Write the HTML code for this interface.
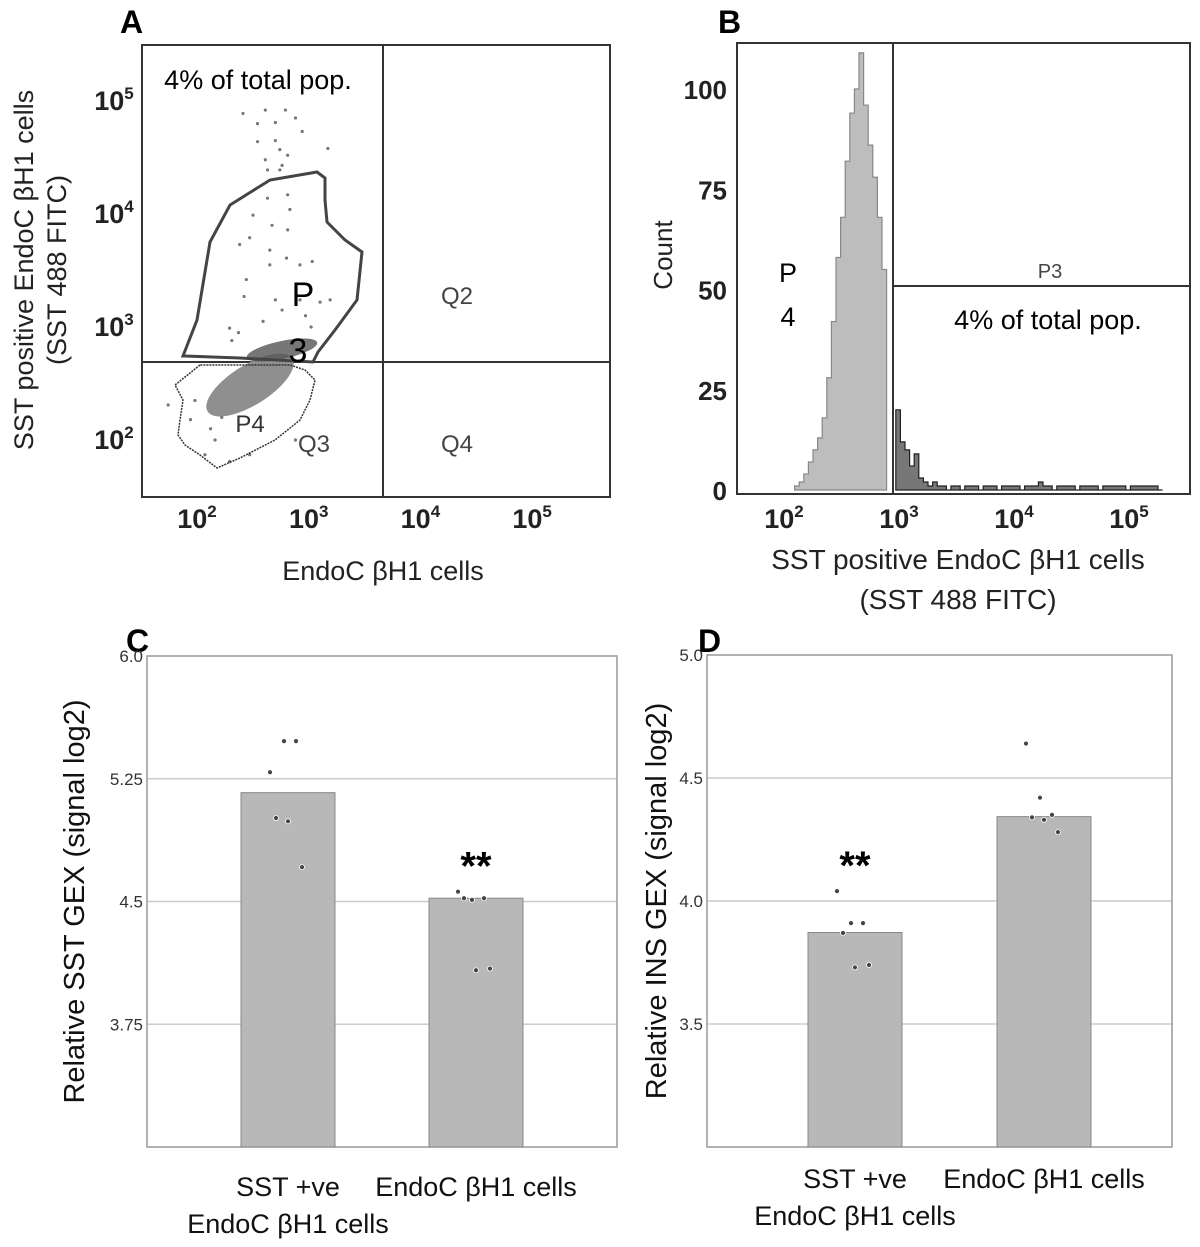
<!DOCTYPE html>
<html><head><meta charset="utf-8"><style>
body{margin:0;background:#fff}
svg{display:block}
text{font-family:"Liberation Sans",sans-serif}
.bold{font-weight:bold}
</style></head><body>
<svg id="fig" width="1200" height="1247" viewBox="0 0 1200 1247" xmlns="http://www.w3.org/2000/svg">
<rect width="1200" height="1247" fill="#fff"/>
<text x="120" y="33" font-size="32" class="bold">A</text>
<text x="718" y="33" font-size="32" class="bold">B</text>
<text x="126" y="652" font-size="32" class="bold">C</text>
<text x="698" y="652" font-size="32" class="bold">D</text>

<g id="panelA">
<rect x="142" y="45" width="468" height="452" fill="none" stroke="#333" stroke-width="2"/>
<line x1="383" y1="45" x2="383" y2="497" stroke="#333" stroke-width="2"/>
<line x1="142" y1="362" x2="610" y2="362" stroke="#333" stroke-width="2"/>
<ellipse cx="250" cy="385" rx="50" ry="20" transform="rotate(-32 250 385)" fill="#8f8f8f"/>
<ellipse cx="282" cy="350" rx="36" ry="9" transform="rotate(-12 282 350)" fill="#555" opacity="0.8"/>
<g id="dotsA"></g>
<path d="M183,356 L197,320 L210,242 L230,205 L270,180 L317,172 L325,178 L325,200 L327,222 L345,240 L362,252 L357,300 L335,330 L318,352 L313,362 L240,358 L185,356 Z" fill="none" stroke="#444" stroke-width="3"/>
<path d="M200,365 L175,385 L183,400 L180,420 L178,435 L185,445 L200,455 L217,468 L240,458 L275,440 L300,420 L310,400 L315,380 L305,370 L290,365 Z" fill="none" stroke="#333" stroke-width="1.5" stroke-dasharray="2 1"/>
<text x="258" y="89" font-size="27" text-anchor="middle">4% of total pop.</text>
<text x="303" y="306" font-size="34" text-anchor="middle">P</text>
<text x="298" y="362" font-size="34" text-anchor="middle">3</text>
<text x="250" y="432" font-size="24" text-anchor="middle" fill="#333">P4</text>
<text x="457" y="304" font-size="24" text-anchor="middle" fill="#444">Q2</text>
<text x="314" y="452" font-size="24" text-anchor="middle" fill="#444">Q3</text>
<text x="457" y="452" font-size="24" text-anchor="middle" fill="#444">Q4</text>
<g id="ticksA"></g>
<text x="383" y="580" font-size="27" text-anchor="middle" fill="#222">EndoC βH1 cells</text>
<text transform="translate(33,270) rotate(-90)" font-size="27" text-anchor="middle" fill="#222">SST positive EndoC βH1  cells</text>
<text transform="translate(66,270) rotate(-90)" font-size="27" text-anchor="middle" fill="#222">(SST 488 FITC)</text>
</g>

<g id="panelB">
<g id="histB"></g>
<rect x="737" y="43" width="453" height="451" fill="none" stroke="#333" stroke-width="2"/>
<line x1="893" y1="43" x2="893" y2="494" stroke="#333" stroke-width="2"/>
<line x1="893" y1="286" x2="1190" y2="286" stroke="#333" stroke-width="2"/>
<text x="1050" y="278" font-size="20" text-anchor="middle" fill="#444">P3</text>
<text x="1048" y="329" font-size="27" text-anchor="middle">4% of total pop.</text>
<text x="788" y="282" font-size="27" text-anchor="middle">P</text>
<text x="788" y="326" font-size="27" text-anchor="middle">4</text>
<g id="ticksB"></g>
<text transform="translate(672,255) rotate(-90)" font-size="26" text-anchor="middle" fill="#222">Count</text>
<text x="958" y="569" font-size="28" text-anchor="middle" fill="#222">SST positive EndoC βH1 cells</text>
<text x="958" y="609" font-size="28" text-anchor="middle" fill="#222">(SST 488 FITC)</text>
</g>

<g id="panelC"></g>
<g id="panelD"></g>
</svg>
<script>
const scatterAX = [2.34,2.54,2.72,2.81,2.47,2.63,2.87,2.47,2.63,2.67,2.74,2.54,2.69,3.10,2.67,2.56,2.56,2.74,2.76,2.43,2.60,2.40,2.31,2.74,2.58,2.73,2.85,2.96,2.58,2.37,2.35,2.63,2.85,2.69,3.03,3.12,2.22,2.24,1.91,1.87,2.09,2.00,2.40,2.22,2.81,1.67,2.30,2.52,2.90,2.95,2.15,2.05];
const scatterAY = [4.89,4.92,4.92,4.85,4.80,4.81,4.73,4.64,4.65,4.57,4.52,4.48,4.43,4.58,4.39,4.39,4.14,4.17,4.04,3.99,3.90,3.79,3.73,3.86,3.68,3.61,3.55,3.58,3.55,3.42,3.27,3.24,3.24,3.15,3.22,3.24,2.99,2.88,2.35,2.18,2.00,1.87,1.87,1.81,2.00,2.31,2.95,3.05,3.10,3.00,2.20,2.10];
const decadeTicks = [2,3,4,5];
const histStartLog = 2.04, histBinWidth = 0.04;
const histP4Counts = [1,2,4,7,10,13,18,28,42,58,68,82,94,100,109,96,86,78,68,55];
const histP3Start = 2.92, histP3Bin = 0.04;
const histP3Counts = [20,12,10,6,9,3,2,1,2,1,1,0,1,1,0,1,1,1,0,1,1,1,0,1,1,1,1,0,1,1,1,2,1,1,0,1,1,1,1,0,1,1,1,1,0,1,1,1,1,1,0,1,1,1,1,1,1,0];
const countTicks = [0,25,50,75,100];
const catC = ["SST +ve|EndoC βH1 cells","EndoC βH1 cells"];
const meanC = [5.165, 4.52];
const pointsC = [[5.29,5.48,5.48,5.01,4.99,4.71],[4.56,4.51,4.52,4.52,4.08,4.09]];
const ticksC = [3.75,4.5,5.25,6.0];
const tickLabelsC = ["3.75","4.5","5.25","6.0"];
const catD = ["SST +ve|EndoC βH1 cells","EndoC βH1 cells"];
const meanD = [3.872, 4.343];
const pointsD = [[4.04,3.91,3.91,3.87,3.73,3.74],[4.64,4.42,4.35,4.34,4.33,4.28]];
const ticksD = [3.5,4.0,4.5,5.0];
const tickLabelsD = ["3.5","4.0","4.5","5.0"];

const NS="http://www.w3.org/2000/svg";
function mk(tag, attrs, parent){const e=document.createElementNS(NS,tag);for(const k in attrs)e.setAttribute(k,attrs[k]);parent.appendChild(e);return e;}

const axA = l => 205 + (l-2)*111.7;
const ayA = l => 440 - (l-2)*113;
const dotsA=document.getElementById('dotsA');
scatterAX.forEach((lx,i)=>{
  const c=mk('circle',{cx:axA(lx),cy:ayA(scatterAY[i]),r:1.6,fill:'#777'},dotsA);
  
  
});
const ticksA=document.getElementById('ticksA');
decadeTicks.forEach(d=>{
  const t=mk('text',{x:axA(d)-8,y:528,'font-size':27,'text-anchor':'middle','font-weight':'bold',fill:'#222'},ticksA);
  
  
  t.innerHTML='10<tspan dy="-11" font-size="17">'+d+'</tspan>';
  const u=mk('text',{x:114,y:ayA(d)+9,'font-size':27,'text-anchor':'middle','font-weight':'bold',fill:'#222'},ticksA);
  
  
  u.innerHTML='10<tspan dy="-11" font-size="17">'+d+'</tspan>';
});

const axB = l => 790 + (l-2)*115;
const ayB = c => 490 - c*4.01;
const histB=document.getElementById('histB');
function stepPath(start,bw,counts){
  let d='M'+axB(start)+','+ayB(0);
  counts.forEach((c,i)=>{const x0=axB(start+i*bw),x1=axB(start+(i+1)*bw);d+=' L'+x0+','+ayB(c)+' L'+x1+','+ayB(c);});
  d+=' L'+axB(start+counts.length*bw)+','+ayB(0)+' Z';return d;
}
const h4=mk('path',{d:stepPath(histStartLog,histBinWidth,histP4Counts),fill:'#bdbdbd',stroke:'#888','stroke-width':1.2},histB);


const h3=mk('path',{d:stepPath(histP3Start,histP3Bin,histP3Counts),fill:'#777',stroke:'#222','stroke-width':1.2},histB);


const ticksB=document.getElementById('ticksB');
countTicks.forEach(c=>{
  const t=mk('text',{x:727,y:ayB(c)+10,'font-size':26,'text-anchor':'end','font-weight':'bold',fill:'#222'},ticksB);
  
  
  t.textContent=c;
});
decadeTicks.forEach(d=>{
  const t=mk('text',{x:axB(d)-6,y:528,'font-size':27,'text-anchor':'middle','font-weight':'bold',fill:'#222'},ticksB);
  
  
  t.innerHTML='10<tspan dy="-11" font-size="17">'+d+'</tspan>';
});

const jitter=[-18,-4,8,-12,0,14];
function barChart(gid,left,right,top,bottom,ymin,ymax,ticks,labels,cats,means,pts,barCenters,starIdx,ytitle,ytx,labelY){
  const g=document.getElementById(gid);
  const sy=v=>bottom-(v-ymin)/(ymax-ymin)*(bottom-top);
  ticks.forEach((t,i)=>{
    if(t<ymax){const l=mk('line',{x1:left,x2:right,y1:sy(t),y2:sy(t),stroke:'#ccc','stroke-width':1.5},g);
    
    }
    const tx=mk('text',{x:left-4,y:sy(t)+6,'font-size':17,'text-anchor':'end',fill:'#333'},g);
    
    
    tx.textContent=labels[i];
  });
  const fr=mk('rect',{x:left,y:top,width:right-left,height:bottom-top,fill:'none',stroke:'#999','stroke-width':1.5},g);
  
  
  means.forEach((m,i)=>{
    const cx=barCenters[i];
    const b=mk('rect',{x:cx-47,y:sy(m),width:94,height:bottom-sy(m),fill:'#b8b8b8',stroke:'#888','stroke-width':1},g);
    
    
    pts[i].forEach((p,j)=>{
      const c=mk('circle',{cx:cx+jitter[j],cy:sy(p),r:2.5,fill:'#444',stroke:'#fff','stroke-width':0.8},g);
      
      
    });
    const parts=cats[i].split('|');
    parts.forEach((s,k)=>{
      const t=mk('text',{x:cx,y:labelY[i]+k*37,'font-size':27,'text-anchor':'middle',fill:'#111'},g);
      
      
      t.textContent=s;
    });
  });
  const st=mk('text',{x:barCenters[starIdx],y:sy(Math.max(...pts[starIdx]))-12,'font-size':40,'font-weight':'bold','text-anchor':'middle'},g);
  
  
  st.textContent='**';
  const yt=mk('text',{transform:'translate('+ytx+','+((top+bottom)/2)+') rotate(-90)','font-size':29,'text-anchor':'middle',fill:'#111'},g);
  
  
  yt.textContent=ytitle;
}
barChart('panelC',147,617,656,1147,3.0,6.0,ticksC,tickLabelsC,catC,meanC,pointsC,[288,476],1,'Relative SST GEX (signal log2)',84,[1196,1196]);
barChart('panelD',707,1172,655,1147,3.0,5.0,ticksD,tickLabelsD,catD,meanD,pointsD,[855,1044],0,'Relative INS GEX (signal log2)',666,[1188,1188]);
</script>
</body></html>
